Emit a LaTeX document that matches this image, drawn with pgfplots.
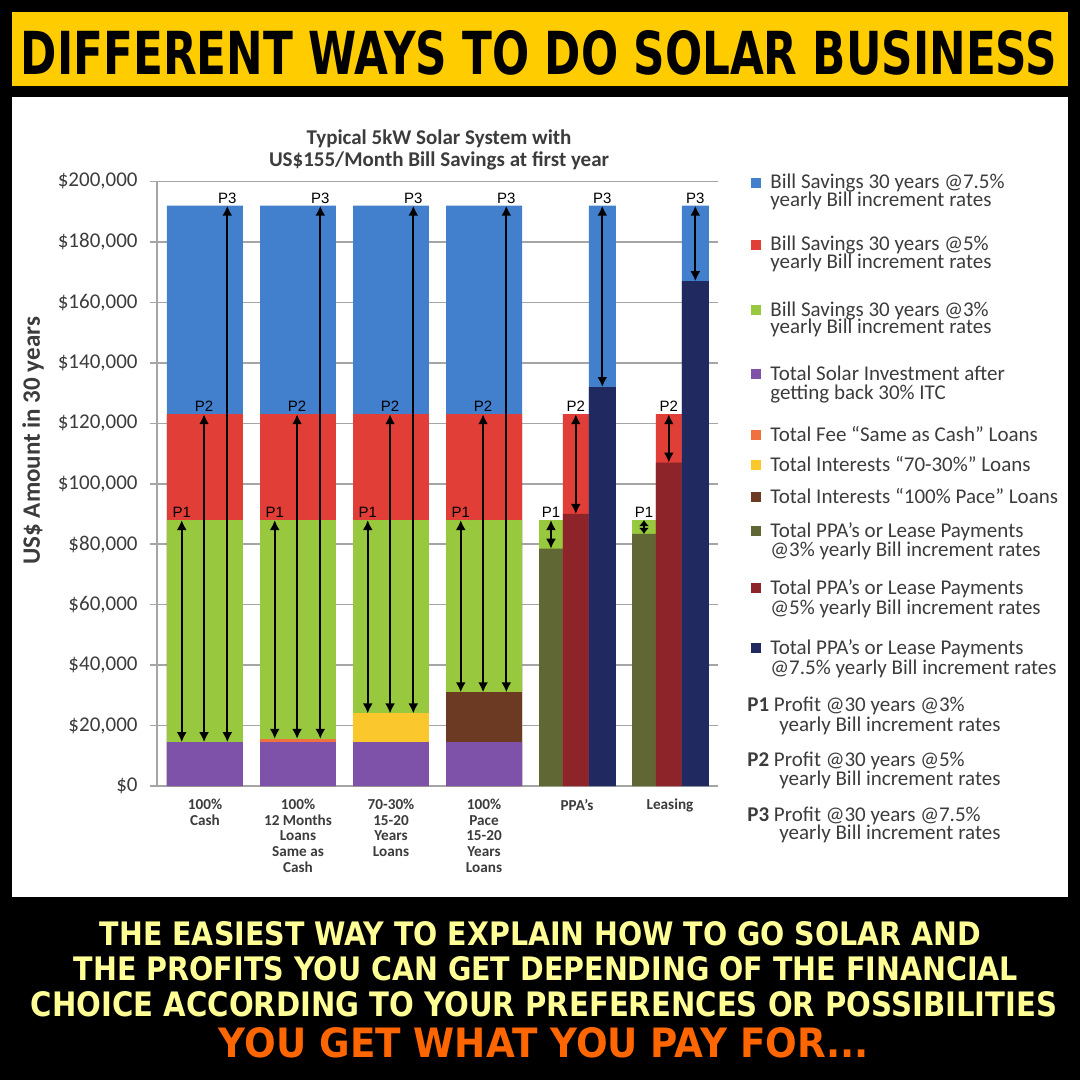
\documentclass[border=0pt]{standalone}
\usepackage{fontspec}
\setmainfont{Carlito}
\newfontfamily\heavy{DejaVu Sans}
\newfontfamily\arial{Liberation Sans}
\usepackage{graphicx}
\usepackage{pgfplots}
\pgfplotsset{compat=1.18}
\usetikzlibrary{arrows.meta}
\definecolor{cBlue}{RGB}{66,128,205}
\definecolor{cRed}{RGB}{226,62,56}
\definecolor{cGreen}{RGB}{152,200,62}
\definecolor{cPurple}{RGB}{126,82,168}
\definecolor{cOrange}{RGB}{240,112,64}
\definecolor{cYellow}{RGB}{250,200,45}
\definecolor{cBrown}{RGB}{108,58,34}
\definecolor{cOlive}{RGB}{96,102,52}
\definecolor{cDRed}{RGB}{140,36,42}
\definecolor{cNavy}{RGB}{32,42,96}
\definecolor{gridgray}{RGB}{165,165,165}
\definecolor{txt}{RGB}{60,60,60}
\definecolor{bannerY}{RGB}{255,204,0}
\definecolor{lightY}{RGB}{255,255,150}
\definecolor{orangeT}{RGB}{255,102,0}
\tikzset{
  arr/.style={black, line width=1pt, arrows={Latex[length=5pt,width=5pt]-Latex[length=5pt,width=5pt]}},
  sarr/.style={black, line width=1pt, arrows={Latex[length=3pt,width=5pt]-Latex[length=3pt,width=5pt]}},
  plab/.style={font=\arial\fontsize{7.5}{8}\selectfont, text=black, anchor=south, inner sep=1pt},
  leg/.style={anchor=base west, inner sep=0pt, font=\fontsize{10.5}{12}\selectfont, text=txt},
}
\begin{document}
\begin{tikzpicture}
\begin{scope}[x=0.5pt,y=-0.5pt]
\fill[black] (0,0) rectangle (1080,1080);
\fill[bannerY] (12,12) rectangle (1068,86);
\node[inner sep=0pt] at (539,53) {\resizebox{518pt}{22pt}{\heavy\bfseries DIFFERENT WAYS TO DO SOLAR BUSINESS}};
\fill[white] (12,97) rectangle (1068,897);
% chart title
\node[anchor=base, inner sep=0pt, font=\fontsize{10.5}{12}\selectfont\bfseries, text=txt] at (439,145) {Typical 5kW Solar System with};
\node[anchor=base, inner sep=0pt, font=\fontsize{10.5}{12}\selectfont\bfseries, text=txt] at (439,167) {US\$155/Month Bill Savings at first year};
% legend
\fill[cBlue] (751,178) rectangle (761,188);
\node[leg] at (770,189) {Bill Savings 30 years @7.5\%};
\node[leg] at (770,207) {yearly Bill increment rates};
\fill[cRed] (751,240) rectangle (761,250);
\node[leg] at (770,251) {Bill Savings 30 years @5\%};
\node[leg] at (770,269) {yearly Bill increment rates};
\fill[cGreen] (751,305) rectangle (761,315);
\node[leg] at (770,316) {Bill Savings 30 years @3\%};
\node[leg] at (770,334) {yearly Bill increment rates};
\fill[cPurple] (751,369) rectangle (761,379);
\node[leg] at (770,380) {Total Solar Investment after};
\node[leg] at (770,399) {getting back 30\% ITC};
\fill[cOrange] (751,430) rectangle (761,440);
\node[leg] at (770,441) {Total Fee “Same as Cash” Loans};
\fill[cYellow] (751,460) rectangle (761,470);
\node[leg] at (770,471) {Total Interests “70-30\%” Loans};
\fill[cBrown] (751,492) rectangle (761,502);
\node[leg] at (770,503) {Total Interests “100\% Pace” Loans};
\fill[cOlive] (751,526) rectangle (761,536);
\node[leg] at (770,537) {Total PPA’s or Lease Payments};
\node[leg] at (770,556) {@3\% yearly Bill increment rates};
\fill[cDRed] (751,583) rectangle (761,593);
\node[leg] at (770,594) {Total PPA’s or Lease Payments};
\node[leg] at (770,614) {@5\% yearly Bill increment rates};
\fill[cNavy] (751,643) rectangle (761,653);
\node[leg] at (770,654) {Total PPA’s or Lease Payments};
\node[leg] at (770,674) {@7.5\% yearly Bill increment rates};
\node[leg] at (747,711) {\textbf{P1} Profit @30 years @3\%};
\node[leg] at (779,731) {yearly Bill increment rates};
\node[leg] at (747,766) {\textbf{P2} Profit @30 years @5\%};
\node[leg] at (779,785) {yearly Bill increment rates};
\node[leg] at (747,821) {\textbf{P3} Profit @30 years @7.5\%};
\node[leg] at (779,839) {yearly Bill increment rates};
% bottom text
\node[inner sep=0pt, text=lightY] at (540.5,933.5) {\resizebox{440.5pt}{12pt}{\heavy\bfseries THE EASIEST WAY TO EXPLAIN HOW TO GO SOLAR AND}};
\node[inner sep=0pt, text=lightY] at (546,968.5) {\resizebox{472pt}{12pt}{\heavy\bfseries THE PROFITS YOU CAN GET DEPENDING OF THE FINANCIAL}};
\node[inner sep=0pt, text=lightY] at (544,1004) {\resizebox{513pt}{12.5pt}{\heavy\bfseries CHOICE ACCORDING TO YOUR PREFERENCES OR POSSIBILITIES}};
\node[inner sep=0pt, text=orangeT] at (544,1043) {\resizebox{325pt}{15pt}{\heavy\bfseries YOU GET WHAT YOU PAY FOR...}};
\end{scope}
\begin{axis}[
  at={(78.5pt,-393pt)}, anchor=south west,
  scale only axis, width=280.5pt, height=302.25pt,
  xmin=-0.516, xmax=5.516, ymin=0, ymax=200000,
  axis lines=left, axis line style={-, draw=gridgray, line width=0.8pt},
  scaled y ticks=false,
  ytick={0,20000,...,200000},
  yticklabels={{\$0},{\$20,000},{\$40,000},{\$60,000},{\$80,000},{\$100,000},{\$120,000},{\$140,000},{\$160,000},{\$180,000},{\$200,000}},
  yticklabel style={font=\fontsize{10.5}{12}\selectfont, text=txt, inner sep=0pt, xshift=-6pt},
  ytick style={draw=gridgray, line width=0.8pt},
  tick align=outside, major tick length=3.5pt,
  ymajorgrids, grid style={draw=gridgray, line width=0.8pt},
  xtick={0,1,2,3,4,5},
  xticklabels={{100\%\\Cash},{100\%\\12 Months\\Loans\\Same as\\Cash},{70-30\%\\15-20\\Years\\Loans},{100\%\\Pace\\15-20\\Years\\Loans},{PPA’s},{Leasing}},
  xticklabel style={align=center, font=\fontsize{7.6}{7.85}\selectfont\bfseries, text=txt, anchor=north, yshift=0.5pt},
  xtick style={draw=none},
  ylabel={US\$ Amount in 30 years},
  ylabel style={font=\fontsize{12.5}{14}\selectfont\bfseries, text=txt, at={(axis description cs:-0.221,0.571)}, anchor=center},
  clip=false,
]
% main bars: drawn from the tallest layer to the lowest
\addplot[ybar, bar width=0.817, bar shift=0pt, draw=none, fill=cBlue] coordinates {(0,192000) (1,192000) (2,192000) (3,192000)};
\addplot[ybar, bar width=0.817, bar shift=0pt, draw=none, fill=cRed] coordinates {(0,123000) (1,123000) (2,123000) (3,123000)};
\addplot[ybar, bar width=0.817, bar shift=0pt, draw=none, fill=cGreen] coordinates {(0,88000) (1,88000) (2,88000) (3,88000)};
\addplot[ybar, bar width=0.817, bar shift=0pt, draw=none, fill=cBrown] coordinates {(3,31000)};
\addplot[ybar, bar width=0.817, bar shift=0pt, draw=none, fill=cYellow] coordinates {(2,24000)};
\addplot[ybar, bar width=0.817, bar shift=0pt, draw=none, fill=cOrange] coordinates {(1,15600)};
\addplot[ybar, bar width=0.817, bar shift=0pt, draw=none, fill=cPurple] coordinates {(0,14500) (1,14500) (2,14500) (3,14500)};
% PPA and leasing bars
\addplot[ybar, bar width=0.254, bar shift=0pt, draw=none, fill=cGreen] coordinates {(3.72,88000) (4.72,88000)};
\addplot[ybar, bar width=0.254, bar shift=0pt, draw=none, fill=cOlive] coordinates {(3.72,78500) (4.72,83400)};
\addplot[ybar, bar width=0.28, bar shift=0pt, draw=none, fill=cRed] coordinates {(3.987,123000) (4.987,123000)};
\addplot[ybar, bar width=0.28, bar shift=0pt, draw=none, fill=cDRed] coordinates {(3.987,90000) (4.987,107000)};
\addplot[ybar, bar width=0.29, bar shift=0pt, draw=none, fill=cBlue] coordinates {(4.272,192000) (5.272,192000)};
\addplot[ybar, bar width=0.29, bar shift=0pt, draw=none, fill=cNavy] coordinates {(4.272,132000) (5.272,167000)};
% profit arrows
\addplot[arr] coordinates {(-0.25,14500) (-0.25,88000)};
\addplot[arr] coordinates {(-0.01,14500) (-0.01,123000)};
\addplot[arr] coordinates {(0.24,14500) (0.24,192000)};
\addplot[arr] coordinates {(0.75,15600) (0.75,88000)};
\addplot[arr] coordinates {(0.99,15600) (0.99,123000)};
\addplot[arr] coordinates {(1.24,15600) (1.24,192000)};
\addplot[arr] coordinates {(1.75,24000) (1.75,88000)};
\addplot[arr] coordinates {(1.99,24000) (1.99,123000)};
\addplot[arr] coordinates {(2.24,24000) (2.24,192000)};
\addplot[arr] coordinates {(2.75,31000) (2.75,88000)};
\addplot[arr] coordinates {(2.99,31000) (2.99,123000)};
\addplot[arr] coordinates {(3.24,31000) (3.24,192000)};
\addplot[arr] coordinates {(3.72,78500) (3.72,88000)};
\addplot[arr] coordinates {(3.987,90000) (3.987,123000)};
\addplot[arr] coordinates {(4.272,132000) (4.272,192000)};
\addplot[sarr] coordinates {(4.72,83400) (4.72,88000)};
\addplot[arr] coordinates {(4.987,107000) (4.987,123000)};
\addplot[arr] coordinates {(5.272,167000) (5.272,192000)};
% labels
\node[plab] at (axis cs:-0.25,88000) {P1};
\node[plab] at (axis cs:-0.01,123000) {P2};
\node[plab] at (axis cs:0.24,192000) {P3};
\node[plab] at (axis cs:0.75,88000) {P1};
\node[plab] at (axis cs:0.99,123000) {P2};
\node[plab] at (axis cs:1.24,192000) {P3};
\node[plab] at (axis cs:1.75,88000) {P1};
\node[plab] at (axis cs:1.99,123000) {P2};
\node[plab] at (axis cs:2.24,192000) {P3};
\node[plab] at (axis cs:2.75,88000) {P1};
\node[plab] at (axis cs:2.99,123000) {P2};
\node[plab] at (axis cs:3.24,192000) {P3};
\node[plab] at (axis cs:3.72,88000) {P1};
\node[plab] at (axis cs:3.987,123000) {P2};
\node[plab] at (axis cs:4.272,192000) {P3};
\node[plab] at (axis cs:4.72,88000) {P1};
\node[plab] at (axis cs:4.987,123000) {P2};
\node[plab] at (axis cs:5.272,192000) {P3};
\end{axis}
\end{tikzpicture}
\end{document}
